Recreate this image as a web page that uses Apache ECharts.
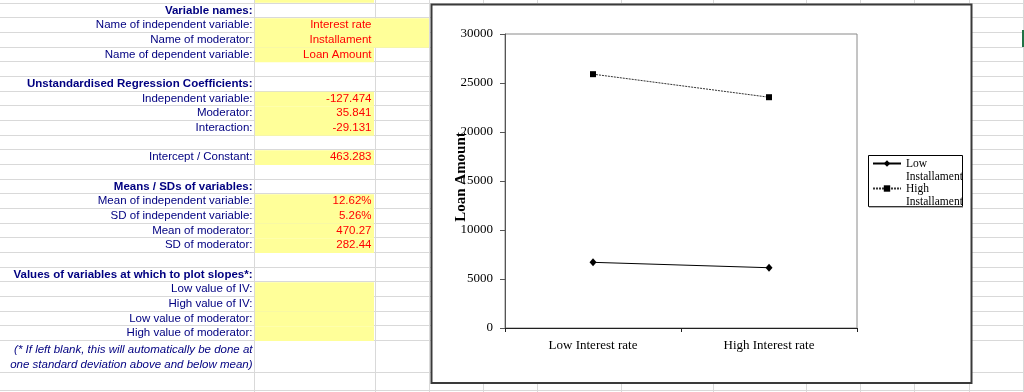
<!DOCTYPE html>
<html><head><meta charset="utf-8">
<script src="https://cdn.jsdelivr.net/npm/echarts@6/dist/echarts.min.js"></script>
<style>html,body{margin:0;padding:0;background:#fff}#c{width:1024px;height:392px}</style>
</head><body><div id="c"></div>
<script>
// ---- chart data ----
const categories = ['Low Interest rate', 'High Interest rate'];
const seriesNames = ['Low Installament', 'High Installament'];
const lowInstallament = [6700, 6150];
const highInstallament = [25900, 23550];
const yMin = 0, yMax = 30000, yStep = 5000;
const yAxisName = 'Loan Amount';

// ---- spreadsheet text ----
const sheetLabels = [
  'Variable names:', 'Name of independent variable:', 'Name of moderator:', 'Name of dependent variable:', '',
  'Unstandardised Regression Coefficients:', 'Independent variable:', 'Moderator:', 'Interaction:', '',
  'Intercept / Constant:', '',
  'Means / SDs of variables:', 'Mean of independent variable:', 'SD of independent variable:', 'Mean of moderator:', 'SD of moderator:', '',
  'Values of variables at which to plot slopes*:', 'Low value of IV:', 'High value of IV:', 'Low value of moderator:', 'High value of moderator:'
];
const sheetValues = [
  '', 'Interest rate', 'Installament', 'Loan Amount', '',
  '', '-127.474', '35.841', '-29.131', '',
  '463.283', '',
  '', '12.62%', '5.26%', '470.27', '282.44', '',
  '', '', '', '', ''
];
const headerRows = [0, 5, 12, 18];
const yellowRows = [1, 2, 3, 6, 7, 8, 10, 13, 14, 15, 16, 19, 20, 21, 22];
const wideYellowRows = [1, 2];
const noteLines = ['(* If left blank, this will automatically be done at', 'one standard deviation above and below mean)'];

// ---- layout ----
const ROW0 = 2.67, RH = 14.667;
const rowTop = i => ROW0 + RH * i;
const rowLinesY = [];
for (let i = 0; i <= 23; i++) rowLinesY.push(rowTop(i));
rowLinesY.push(371.7, 390);
const colLinesX = [254, 374.5, 429, 483, 537, 621, 713, 806, 860, 914, 969, 1023];
const NAVY = '#000080';
const SANS = '"Liberation Sans", Arial, sans-serif';
const SERIF = '"Liberation Serif", "Times New Roman", serif';

const g = [];
// gridlines
rowLinesY.forEach(y => g.push({type:'line', z:-30, silent:true, shape:{x1:0, y1:Math.round(y)+0.5, x2:1024, y2:Math.round(y)+0.5}, style:{stroke:'#d9d9d9', lineWidth:1}}));
colLinesX.forEach(x => g.push({type:'line', z:-30, silent:true, shape:{x1:Math.round(x)+0.5, y1:0, x2:Math.round(x)+0.5, y2:392}, style:{stroke:'#d9d9d9', lineWidth:1}}));
// yellow cells
g.push({type:'rect', z:-25, silent:true, shape:{x:255, y:0, width:119, height:2.67}, style:{fill:'#ffff99'}});
yellowRows.forEach(r => g.push({type:'rect', z:-25, silent:true, shape:{x:255, y:rowTop(r)+1, width:119, height:RH}, style:{fill:'#ffff99'}}));
wideYellowRows.forEach(r => g.push({type:'rect', z:-25, silent:true, shape:{x:374, y:rowTop(r)+1, width:55, height:RH}, style:{fill:'#ffff99'}}));
// green selection mark
g.push({type:'rect', z:-20, silent:true, shape:{x:1022, y:30, width:2, height:17}, style:{fill:'#217346'}});
// labels and values
sheetLabels.forEach((t, i) => {
  if (!t) return;
  const bold = headerRows.indexOf(i) >= 0;
  g.push({type:'text', z:-20, silent:true, style:{text:t, x:252.5, y:rowTop(i)+RH/2+0.5, align:'right', verticalAlign:'middle',
    fill:NAVY, font:(bold?'bold ':'')+'11.5px '+SANS}});
});
sheetValues.forEach((t, i) => {
  if (!t) return;
  g.push({type:'text', z:-20, silent:true, style:{text:t, x:371.5, y:rowTop(i)+RH/2+0.5, align:'right', verticalAlign:'middle',
    fill:'#ff0000', font:'11.5px '+SANS}});
});
noteLines.forEach((t, k) => g.push({type:'text', z:-20, silent:true, style:{text:t, x:252.5, y:350+15*k, align:'right', verticalAlign:'middle',
  fill:NAVY, font:'italic 11.5px '+SANS}}));
// chart area frame
g.push({type:'rect', z:-10, silent:true, shape:{x:431.5, y:4.5, width:540, height:378.5}, style:{fill:'#fff', stroke:'#3a3a3a', lineWidth:2}});
// legend box
g.push({type:'rect', z:5, silent:true, shape:{x:868.5, y:155.5, width:94, height:51}, style:{fill:'none', stroke:'#000', lineWidth:1}});
g.push({type:'line', z:5, silent:true, shape:{x1:869, y1:207, x2:963, y2:207}, style:{stroke:'#666', lineWidth:1}});

const legendCommon = {
  orient:'vertical', left:872, padding:0, itemWidth:28, itemHeight:8, selectedMode:false,
  formatter: n => '\u00a0\n' + n.replace(' ', '\n'),
  textStyle:{fontFamily:SERIF, fontSize:11.5, lineHeight:13, color:'#000'}
};

const chart = echarts.init(document.getElementById('c'), null, {renderer:'canvas'});
chart.setOption({
  animation:false,
  backgroundColor:'#fff',
  graphic:{elements:g},
  grid:{left:505, top:34, width:352, height:294, show:true, borderColor:'#8a8a8a', borderWidth:1, backgroundColor:'transparent'},
  legend:[
    Object.assign({}, legendCommon, {data:[seriesNames[0]], top:144}),
    Object.assign({}, legendCommon, {data:[seriesNames[1]], top:169})
  ],
  xAxis:{type:'category', data:categories, boundaryGap:true,
    axisLine:{lineStyle:{color:'#202020', width:1}},
    axisTick:{show:true, length:4, lineStyle:{color:'#202020'}},
    axisLabel:{fontFamily:SERIF, fontSize:13, color:'#000', margin:11}},
  yAxis:{type:'value', min:yMin, max:yMax, interval:yStep,
    name:yAxisName, nameLocation:'middle', nameRotate:90, nameGap:36, nameMoveOverlap:false,
    nameTextStyle:{fontFamily:SERIF, fontSize:15, fontWeight:'bold', color:'#000', padding:[0,0,0,8]},
    axisLine:{show:true, lineStyle:{color:'#555', width:1}},
    axisTick:{show:true, length:5, lineStyle:{color:'#555'}},
    splitLine:{show:false},
    axisLabel:{fontFamily:SERIF, fontSize:13, color:'#000', margin:12, formatter: v => String(v)}},
  series:[
    {name:seriesNames[0], type:'line', data:lowInstallament, symbol:'diamond', symbolSize:[7,8],
     lineStyle:{color:'#000', width:1}, itemStyle:{color:'#000'}, z:3},
    {name:seriesNames[1], type:'line', data:highInstallament, symbol:'rect', symbolSize:6,
     lineStyle:{color:'#333', width:1, type:[2,1]}, itemStyle:{color:'#000'}, z:3}
  ]
});
</script></body></html>
